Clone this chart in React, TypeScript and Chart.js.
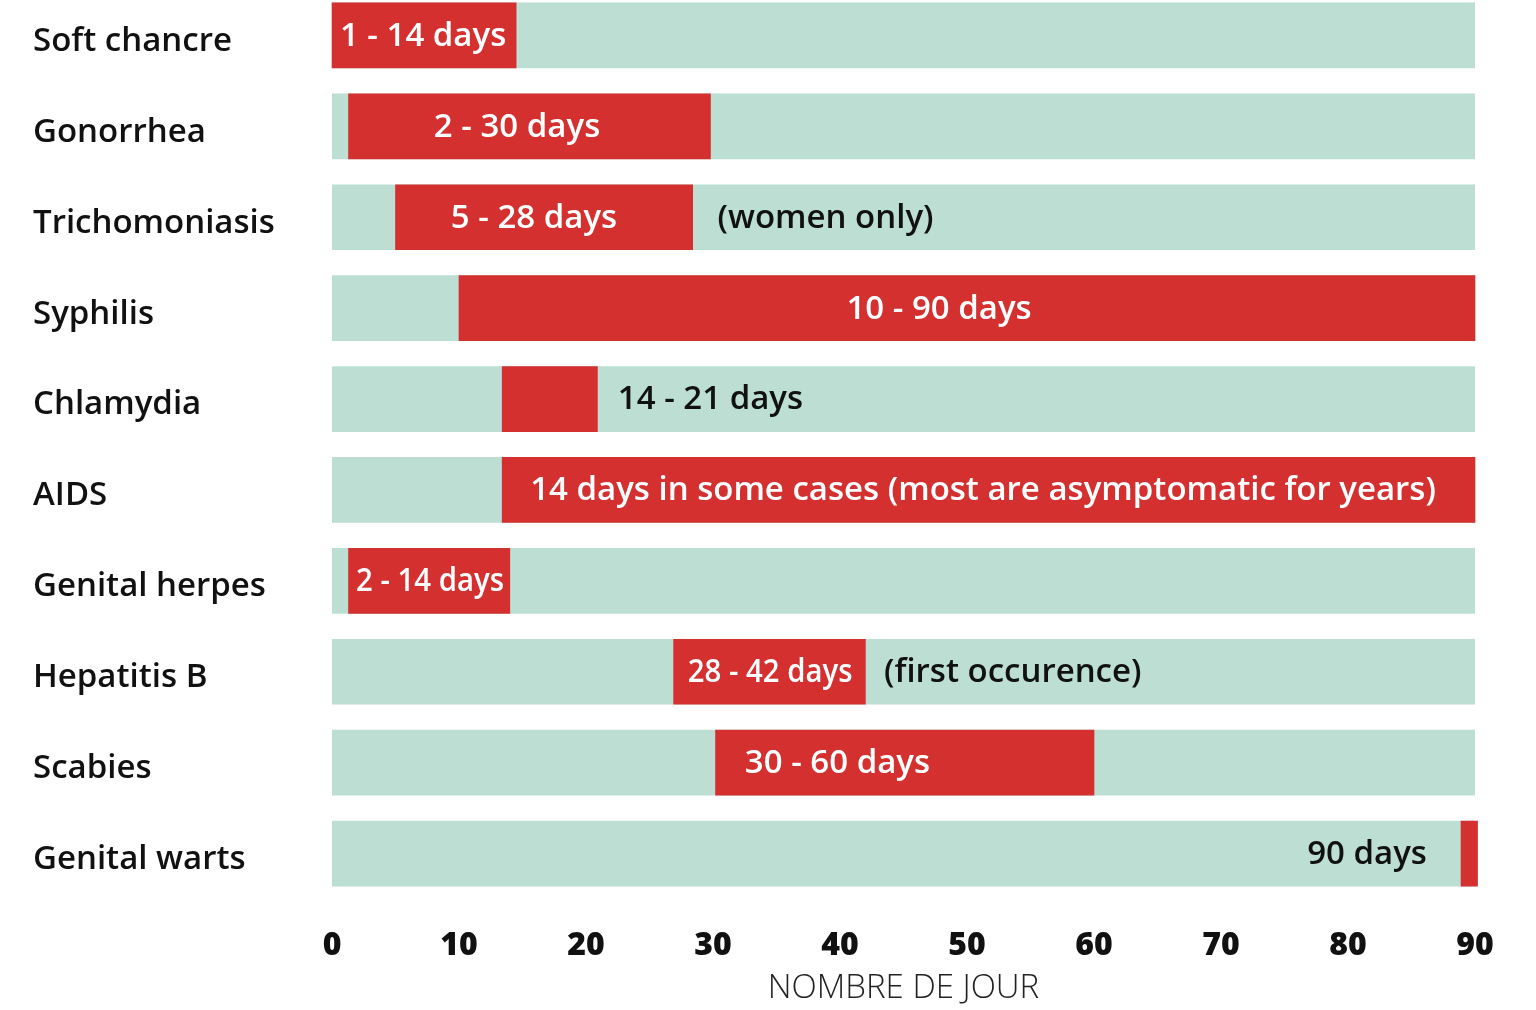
import React, { useEffect, useRef } from "react";
import { Chart, registerables } from "chart.js";

Chart.register(...registerables);

// ---------- data ----------
const categories = [
  "Soft chancre",
  "Gonorrhea",
  "Trichomoniasis",
  "Syphilis",
  "Chlamydia",
  "AIDS",
  "Genital herpes",
  "Hepatitis B",
  "Scabies",
  "Genital warts",
];
const rangeStart = [0, 1.3, 5, 10, 13.4, 13.4, 1.3, 26.9, 30.2, 88.9];
const rangeEnd = [14.5, 29.8, 28.4, 90, 20.9, 90, 14, 42, 60, 90.2];
const scaleMin = 0;
const scaleMax = 90;
const tickStep = 10;
const axisTitle = "NOMBRE DE JOUR";

// bar annotations: row index, text, value (days) at the label centre, on red?, narrow?
const labelRows = [0, 1, 2, 2, 3, 4, 5, 6, 7, 7, 8, 9];
const labelTexts = [
  "1 - 14 days",
  "2 - 30 days",
  "5 - 28 days",
  "(women only)",
  "10 - 90 days",
  "14 - 21 days",
  "14 days in some cases (most are asymptomatic for years)",
  "2 - 14 days",
  "28 - 42 days",
  "(first occurence)",
  "30 - 60 days",
  "90 days",
];
const labelAt = [7.17, 14.57, 15.9, 38.86, 47.8, 29.8, 51.26, 7.72, 34.5, 53.6, 39.8, 81.5];
const labelOnRed = [true, true, true, false, true, false, true, true, true, false, true, false];
const labelNarrow = [false, false, false, false, false, false, false, true, true, false, false, false];

// ---------- styles ----------
const GREEN = "#bcded3";
const RED = "#d3302f";
const INK = "#111111";
const FONT = '"Open Sans", sans-serif';

const barLabelPlugin = {
  id: "barLabels",
  afterDatasetsDraw(chart: any) {
    const { ctx } = chart;
    const x = chart.scales.x;
    const y = chart.scales.y;
    ctx.save();
    labelRows.forEach((row, i) => {
      const px = x.getPixelForValue(labelAt[i]);
      const py = y.getPixelForValue(row) + 1;
      ctx.font = `600 33px ${FONT}`;
      ctx.fillStyle = labelOnRed[i] ? "#ffffff" : INK;
      ctx.textAlign = "center";
      ctx.textBaseline = "middle";
      ctx.save();
      ctx.translate(px, py);
      if (labelNarrow[i]) ctx.scale(0.89, 1);
      ctx.fillText(labelTexts[i], 0, 0);
      ctx.restore();
    });
    ctx.restore();
  },
};

export default function App() {
  const ref = useRef<HTMLCanvasElement | null>(null);

  useEffect(() => {
    if (!ref.current) return;
    const chart = new Chart(ref.current, {
      type: "bar",
      data: {
        labels: categories,
        datasets: [
          {
            label: "Range",
            data: categories.map((_, i) => [rangeStart[i], rangeEnd[i]]) as any,
            backgroundColor: RED,
            borderWidth: 0,
            barThickness: 65,
            grouped: false,
            order: 0,
            clip: false as any,
          },
          {
            label: "Scale",
            data: categories.map(() => [scaleMin, scaleMax]) as any,
            backgroundColor: GREEN,
            borderWidth: 0,
            barThickness: 65,
            grouped: false,
            order: 1,
          },
        ],
      },
      options: {
        indexAxis: "y",
        responsive: false,
        animation: false,
        layout: { padding: { top: 10, left: 33, right: 61, bottom: 0 } },
        plugins: {
          legend: { display: false },
          tooltip: { enabled: false },
        },
        scales: {
          x: {
            type: "linear",
            min: scaleMin,
            max: scaleMax,
            grid: { display: false, drawTicks: false },
            border: { display: false },
            afterFit: (axis: any) => {
              axis.height = 111;
            },
            ticks: {
              stepSize: tickStep,
              padding: 28,
              color: INK,
              font: { family: FONT, size: 32, weight: "800" },
            },
            title: {
              display: true,
              text: axisTitle,
              color: "#222222",
              font: { family: FONT, size: 33, weight: "300" },
              padding: { top: 0, bottom: 2 },
            },
          },
          y: {
            type: "category",
            grid: { display: false, drawTicks: false },
            border: { display: false },
            afterFit: (axis: any) => {
              axis.width = 299;
              axis.paddingTop = 0;
              axis.paddingBottom = 0;
            },
            ticks: {
              crossAlign: "far",
              labelOffset: 6,
              padding: 0,
              color: INK,
              font: { family: FONT, size: 33, weight: "600" },
            },
          },
        },
      },
      plugins: [barLabelPlugin],
    });
    return () => chart.destroy();
  }, []);

  return (
    <div style={{ position: "absolute", left: 0, top: -20, width: 1536, height: 1030 }}>
      <canvas ref={ref} width={1536} height={1030} style={{ width: 1536, height: 1030 }} />
    </div>
  );
}
